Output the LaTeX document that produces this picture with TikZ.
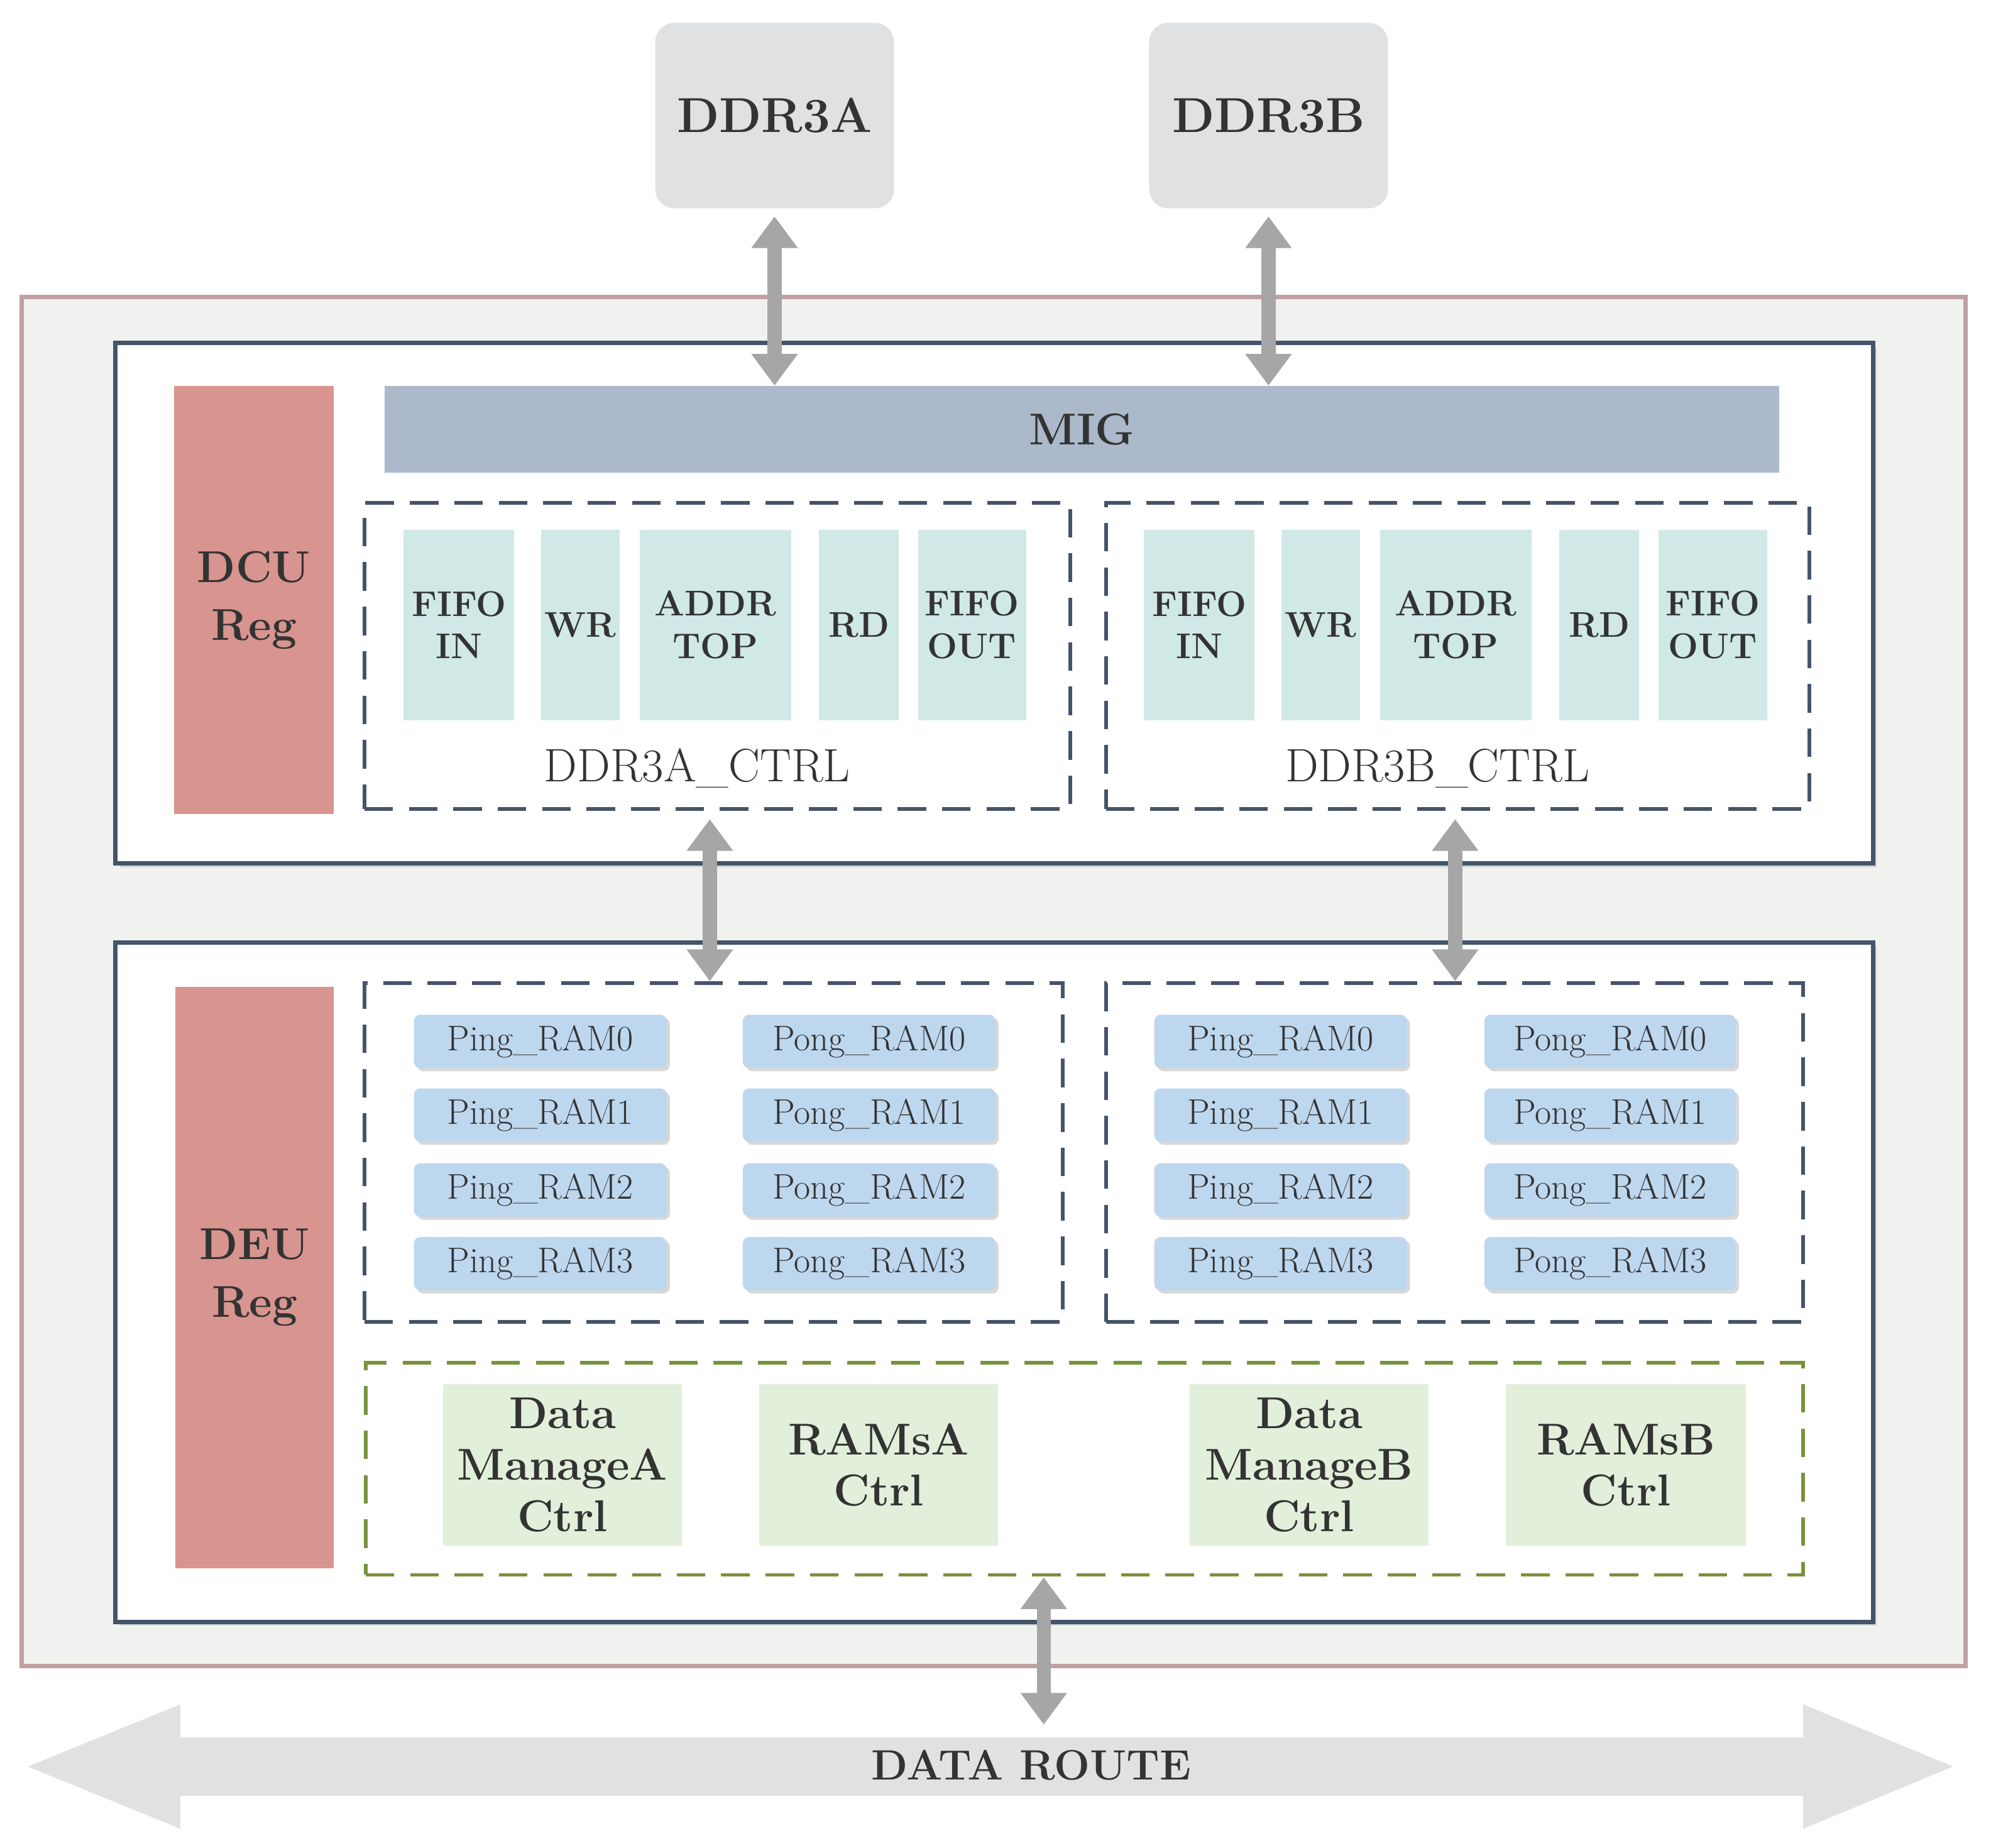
\documentclass[tikz,border=0pt]{standalone}
\usetikzlibrary{shadows,arrows.meta}
\definecolor{ddrgray}{HTML}{E0E1E3}
\definecolor{outerfill}{HTML}{F0F2EF}
\definecolor{outerline}{HTML}{C0A0A3}
\definecolor{panelline}{HTML}{44546A}
\definecolor{regred}{HTML}{D8948F}
\definecolor{migblue}{HTML}{ACB9CA}
\definecolor{teal}{HTML}{D0E8E6}
\definecolor{ramblue}{HTML}{BDD7EE}
\definecolor{dgreen}{HTML}{77933C}
\definecolor{lgreen}{HTML}{E2EFDA}
\definecolor{arrgray}{HTML}{A6A6A6}
\definecolor{txt}{HTML}{333333}
\newcommand{\bx}[7]{%
 \pgfmathsetmacro{\cx}{((#3)+(#5))/2}\pgfmathsetmacro{\cy}{((#4)+(#6))/2}%
 \pgfmathsetmacro{\ww}{((#5)-(#3))*0.02}\pgfmathsetmacro{\hh}{((#6)-(#4))*0.02}%
 \node[#2,minimum width=\ww cm,minimum height=\hh cm] (#1) at (\cx,\cy) {#7};}
\tikzset{
 base/.style={inner sep=0pt,align=center,text=txt,font=\bfseries},
 ddr/.style={base,fill=ddrgray,rounded corners=0.3cm,font=\fontsize{22}{26}\selectfont\bfseries},
 outer/.style={base,fill=outerfill,draw=outerline,line width=2pt},
 panel/.style={base,fill=white,draw=panelline,line width=2pt,drop shadow={opacity=0.25,shadow xshift=0.06cm,shadow yshift=-0.06cm}},
 reg/.style={base,fill=regred,font=\fontsize{20}{26}\selectfont\bfseries},
 mig/.style={base,fill=migblue,font=\fontsize{20}{24}\selectfont\bfseries},
 dbox/.style={base,draw=panelline,line width=1.6pt,dash pattern=on 0.45cm off 0.25cm},
 gdbox/.style={base,draw=dgreen,line width=1.6pt,dash pattern=on 0.45cm off 0.25cm},
 sm/.style={base,fill=teal,font=\fontsize{16}{19}\selectfont\bfseries},
 ram/.style={base,fill=ramblue,rounded corners=0.1cm,font=\fontsize{16}{19}\selectfont,drop shadow={opacity=0.3,shadow xshift=0.05cm,shadow yshift=-0.05cm}},
 gb/.style={base,fill=lgreen,font=\fontsize{20}{23}\selectfont\bfseries},
 lbl/.style={text=txt,font=\fontsize{21}{24}\selectfont},
 darr/.style={draw=arrgray,line width=0.22cm,{Triangle[width=0.7cm,length=0.5cm]}-{Triangle[width=0.7cm,length=0.5cm]}},
}
\begin{document}
\begin{tikzpicture}[x=0.02cm,y=-0.02cm]
\useasboundingbox (0,0) rectangle (1568,1455);
\bx{ddra}{ddr}{516}{18}{704}{164}{DDR3A}
\bx{ddrb}{ddr}{905}{18}{1093}{164}{DDR3B}
\bx{outer}{outer}{17}{234}{1548}{1312}{}
\bx{dcu}{panel}{91}{270}{1475}{680}{}
\bx{dcureg}{reg}{137}{304}{263}{641}{DCU\\Reg}
\bx{mig}{mig}{303}{304}{1401}{372}{MIG}
\bx{ca}{dbox}{287}{396}{843}{637}{}
\bx{cb}{dbox}{871}{396}{1425}{637}{}
\bx{a1}{sm}{318}{417}{405}{567}{FIFO\\IN}
\bx{a2}{sm}{426}{417}{488}{567}{WR}
\bx{a3}{sm}{504}{417}{623}{567}{ADDR\\TOP}
\bx{a4}{sm}{645}{417}{708}{567}{RD}
\bx{a5}{sm}{723}{417}{808}{567}{FIFO\\OUT}
\bx{b1}{sm}{901}{417}{988}{567}{FIFO\\IN}
\bx{b2}{sm}{1009}{417}{1071}{567}{WR}
\bx{b3}{sm}{1087}{417}{1206}{567}{ADDR\\TOP}
\bx{b4}{sm}{1228}{417}{1291}{567}{RD}
\bx{b5}{sm}{1306}{417}{1392}{567}{FIFO\\OUT}
\node[lbl] (la) at (549,605) {DDR3A\_CTRL};
\node[lbl] (lb) at (1132,605) {DDR3B\_CTRL};
\bx{deu}{panel}{91}{742}{1475}{1277}{}
\bx{deureg}{reg}{138}{777}{263}{1235}{DEU\\Reg}
\bx{ra}{dbox}{287}{774}{837}{1041}{}
\bx{rb}{dbox}{871}{774}{1420}{1041}{}
\foreach \i/\y in {0/820,1/878,2/937,3/995}{
 \bx{pia\i}{ram}{326}{\y-21}{525}{\y+21}{Ping\_RAM\i}
 \bx{poa\i}{ram}{585}{\y-21}{784}{\y+21}{Pong\_RAM\i}
 \bx{pib\i}{ram}{909}{\y-21}{1108}{\y+21}{Ping\_RAM\i}
 \bx{pob\i}{ram}{1169}{\y-21}{1367}{\y+21}{Pong\_RAM\i}
}
\bx{gd}{gdbox}{288}{1073}{1420}{1240}{}
\bx{g1}{gb}{349}{1090}{537}{1217}{Data\\ManageA\\Ctrl}
\bx{g2}{gb}{598}{1090}{786}{1217}{RAMsA\\Ctrl}
\bx{g3}{gb}{937}{1090}{1125}{1217}{Data\\ManageB\\Ctrl}
\bx{g4}{gb}{1186}{1090}{1375}{1217}{RAMsB\\Ctrl}
\fill[ddrgray] (22,1391) -- (142,1342) -- (142,1368) -- (1420,1368) -- (1420,1342)
 -- (1538,1391) -- (1420,1440) -- (1420,1414) -- (142,1414) -- (142,1440) -- cycle;
\node[text=txt,font=\fontsize{19}{22}\selectfont\bfseries] (routel) at (812,1390) {DATA ROUTE};
\draw[darr] (ddra.south) ++(0,6) -- (mig.north -| ddra.south);
\draw[darr] (ddrb.south) ++(0,6) -- (mig.north -| ddrb.south);
\coordinate (xa) at (559,645); \coordinate (xb) at (1146,645);
\draw[darr] (xa) -- (xa |- ra.north);
\draw[darr] (xb) -- (xb |- rb.north);
\coordinate (xc) at (822,1242); \coordinate (xd) at (822,1358);
\draw[darr] (xc) -- (xd);
\end{tikzpicture}
\end{document}
